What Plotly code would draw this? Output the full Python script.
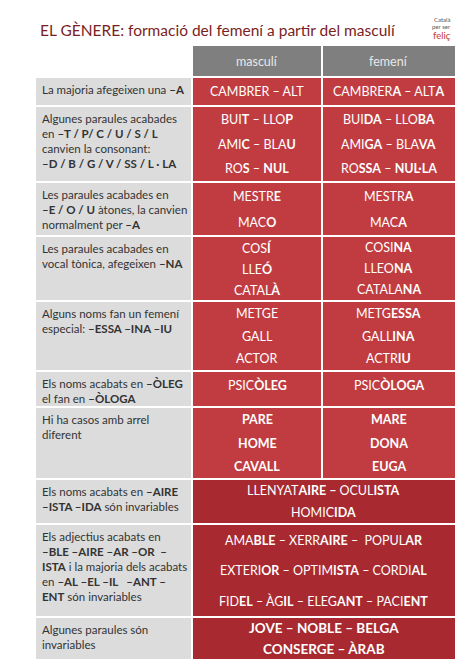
import plotly.graph_objects as go

title = "EL GÈNERE: formació del femení a partir del masculí"
headers = ["masculí", "femení"]

rules = [
    "La majoria afegeixen una <b>–A</b>",
    "Algunes paraules acabades<br>en <b>–T / P/ C / U / S / L</b><br>canvien la consonant:<br><b>–D / B / G / V / SS / L · LA</b>",
    "Les paraules acabades en<br><b>–E / O / U</b> àtones, la canvien<br>normalment per <b>–A</b>",
    "Les paraules acabades en<br>vocal tònica, afegeixen <b>–NA</b>",
    "Alguns noms fan un femení<br>especial: <b>–ESSA –INA –IU</b>",
    "Els noms acabats en <b>–ÒLEG</b><br>el fan en <b>–ÒLOGA</b>",
    "Hi ha casos amb arrel<br>diferent",
    "Els noms acabats en <b>–AIRE</b><br><b>–ISTA –IDA</b> són invariables",
    "Els adjectius acabats en<br><b>–BLE –AIRE –AR –OR  –</b><br><b>ISTA</b> i la majoria dels acabats<br>en <b>–AL –EL –IL   –ANT –</b><br><b>ENT</b> són invariables",
    "Algunes paraules són<br>invariables",
]

masculi = [
    ["CAMBRER – ALT"],
    ["BUI<b>T</b> – LLO<b>P</b>", "AMI<b>C</b> – BLA<b>U</b>", "RO<b>S</b> – <b>NUL</b>"],
    ["MESTR<b>E</b>", "MAC<b>O</b>"],
    ["COS<b>Í</b>", "LLE<b>Ó</b>", "CATAL<b>À</b>"],
    ["METGE", "GALL", "ACTOR"],
    ["PSIC<b>ÒLEG</b>"],
    ["<b>PARE</b>", "<b>HOME</b>", "<b>CAVALL</b>"],
    None, None, None,
]

femeni = [
    ["CAMBRER<b>A</b> – ALT<b>A</b>"],
    ["BUI<b>DA</b> – LLO<b>BA</b>", "AMI<b>GA</b> – BLA<b>VA</b>", "RO<b>SSA</b> – <b>NUL·LA</b>"],
    ["MESTR<b>A</b>", "MAC<b>A</b>"],
    ["COSI<b>NA</b>", "LLEO<b>NA</b>", "CATALA<b>NA</b>"],
    ["METG<b>ESSA</b>", "GALL<b>INA</b>", "ACTR<b>IU</b>"],
    ["PSIC<b>ÒLOGA</b>"],
    ["<b>MARE</b>", "<b>DONA</b>", "<b>EUGA</b>"],
    None, None, None,
]

invariables = [
    None, None, None, None, None, None, None,
    ["LLENYAT<b>AIRE – </b>OCUL<b>ISTA</b>", "HOMIC<b>IDA</b>"],
    ["AMA<b>BLE</b> – XERR<b>AIRE</b> –  POPUL<b>AR</b>",
     "EXTERI<b>OR</b> – OPTIM<b>ISTA</b> – CORDI<b>AL</b>",
     "FID<b>EL</b> – ÀG<b>IL</b> – ELEG<b>ANT</b> – PACI<b>ENT</b>"],
    ["<b>JOVE – NOBLE – BELGA</b>", "<b>CONSERGE – ÀRAB</b>"],
]

logo = ["Català", "per ser", "feliç"]

row_tops = [70, 99, 175, 229, 294, 364, 400, 472, 517, 610]
row_bots = [97, 173, 227, 292, 362, 398, 470, 515, 608, 651]
x0, x1, x2, x3 = 28, 184, 314, 447

GREY = "#dcdcdc"
HEAD = "#7f7f7f"
RED = "#c13c40"
DARK = "#a8292f"
FONT = "Lato"

fig = go.Figure()
shapes = []
ann = []

def rect(xa, xb, ya, yb, color):
    shapes.append(dict(type="rect", xref="x", yref="y", x0=xa, x1=xb, y0=ya, y1=yb,
                       fillcolor=color, line=dict(width=0), layer="below"))

def lines(items, xa, xb, ya, yb, size=12.5, spread=True):
    n = len(items)
    h = (yb - ya) / n if spread else 21
    for i, t in enumerate(items):
        y = ya + (i + 0.5) * h if spread else ya + 13 + i * h
        ann.append(dict(x=(xa + xb) / 2, y=y, text=t, showarrow=False, xref="x", yref="y",
                        font=dict(family=FONT, size=size, color="white")))

# header
rect(x1 + 1, x2 - 1, 38, 68, HEAD)
rect(x2 + 1, x3, 38, 68, HEAD)
for t, xa, xb in [(headers[0], x1, x2), (headers[1], x2, x3)]:
    ann.append(dict(x=(xa + xb) / 2, y=53, text=t, showarrow=False, xref="x", yref="y",
                    font=dict(family=FONT, size=12.5, color="#e8e8e8")))

for i, r in enumerate(rules):
    ya, yb = row_tops[i], row_bots[i]
    rect(x0, x1 - 1, ya, yb, GREY)
    ann.append(dict(x=x0 + 4, y=ya + 3, text=r, showarrow=False, xref="x", yref="y",
                    xanchor="left", yanchor="top", align="left",
                    font=dict(family=FONT, size=11.5, color="#333")))
    if invariables[i] is None:
        rect(x1 + 1, x2 - 1, ya, yb, RED)
        rect(x2 + 1, x3, ya, yb, RED)
        single = i in (5,)
        lines(masculi[i], x1, x2, ya, yb, spread=not single)
        lines(femeni[i], x2, x3, ya, yb, spread=not single)
    else:
        rect(x1 + 1, x3, ya, yb, DARK)
        lines(invariables[i], x1, x3, ya, yb, size=12.5 if i != 9 else 13.5)

ann.append(dict(x=x0 + 2, y=22, text=title, showarrow=False, xref="x", yref="y",
                xanchor="left", font=dict(family=FONT, size=15.5, color="#7a1e24")))
for j, (t, yy) in enumerate(zip(logo, [11, 18, 27])):
    ann.append(dict(x=x3 - 2, y=yy, text=t, showarrow=False, xref="x", yref="y",
                    xanchor="right", font=dict(family=FONT, size=6 if j < 2 else 9.5,
                                               color="#555" if j < 2 else RED)))

fig.update_layout(
    width=474, height=669, margin=dict(l=0, r=0, t=0, b=0),
    plot_bgcolor="white", paper_bgcolor="white", showlegend=False,
    xaxis=dict(range=[0, 474], visible=False, fixedrange=True),
    yaxis=dict(range=[669, 0], visible=False, fixedrange=True),
    shapes=shapes, annotations=ann,
)
fig.write_html("out.html")
